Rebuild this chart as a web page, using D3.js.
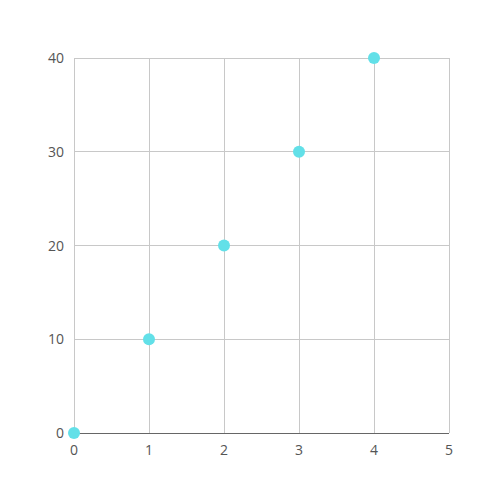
<!DOCTYPE html>
<html><head><meta charset="utf-8">
<script src="https://cdn.jsdelivr.net/npm/d3@7"></script>
<style>body{margin:0;background:#fff}svg{display:block}text{font-family:"Open Sans",sans-serif;}</style>
</head><body>
<script>
const xValues = [0, 1, 2, 3, 4];
const yValues = [0, 10, 20, 30, 40];
const xTicks = [0, 1, 2, 3, 4, 5];
const yTicks = [0, 10, 20, 30, 40];

const W = 500, H = 500;
const m = {left: 74, right: 51, top: 58, bottom: 67};
const svg = d3.select("body").append("svg").attr("width", W).attr("height", H);
const x = d3.scaleLinear().domain([0, 5]).range([m.left, W - m.right]);
const y = d3.scaleLinear().domain([0, 40]).range([H - m.bottom, m.top]);

const g = svg.append("g");
// vertical grid
g.selectAll(".vg").data(xTicks).join("line")
  .attr("x1", d => x(d)).attr("x2", d => x(d))
  .attr("y1", y(40)).attr("y2", y(0))
  .attr("stroke", "#c8c8c8").attr("stroke-width", 1).attr("shape-rendering", "crispEdges");
// horizontal grid
g.selectAll(".hg").data(yTicks).join("line")
  .attr("x1", x(0)).attr("x2", x(5))
  .attr("y1", d => y(d)).attr("y2", d => y(d))
  .attr("stroke", "#c8c8c8").attr("stroke-width", 1).attr("shape-rendering", "crispEdges");
// x axis line
g.append("line").attr("x1", x(0)).attr("x2", x(5)).attr("y1", y(0)).attr("y2", y(0))
  .attr("stroke", "#666").attr("stroke-width", 1).attr("shape-rendering", "crispEdges");

// tick labels
g.selectAll(".xl").data(xTicks).join("text")
  .attr("x", d => x(d)).attr("y", y(0) + 22)
  .attr("text-anchor", "middle").attr("font-size", 14).attr("fill", "#555")
  .text(d => d);
g.selectAll(".yl").data(yTicks).join("text")
  .attr("x", x(0) - 10).attr("y", d => y(d) + 5)
  .attr("text-anchor", "end").attr("font-size", 14).attr("fill", "#555")
  .text(d => d);

// points
g.selectAll("circle").data(xValues.map((v, i) => [v, yValues[i]])).join("circle")
  .attr("cx", d => x(d[0])).attr("cy", d => y(d[1])).attr("r", 6)
  .attr("fill", "#62e0e8");
</script>
</body></html>
